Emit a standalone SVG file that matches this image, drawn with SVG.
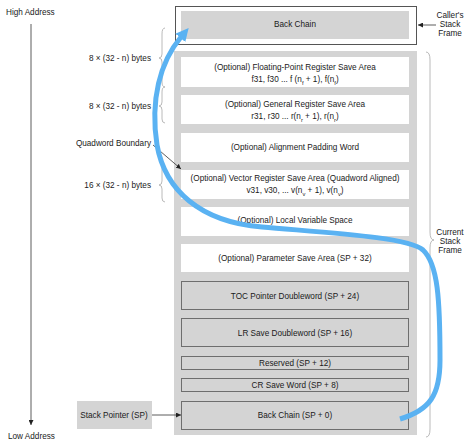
<svg xmlns="http://www.w3.org/2000/svg" width="474" height="444" viewBox="0 0 474 444">
<defs>
<style>
text{font-family:"Liberation Sans",Arial,sans-serif;font-size:8.2px;fill:#1a1a1a}
.c{text-anchor:middle}
.r{text-anchor:end}
.w{fill:#ffffff}
.g{fill:#d4d4d4}
.gb{fill:#d4d4d4;stroke:#6e6e6e;stroke-width:1}
.brace{fill:none;stroke:#a8a8a8;stroke-width:0.8}
.ln{fill:none;stroke:#333;stroke-width:0.8}
.sub{font-size:5.8px}
</style>
<marker id="ah" viewBox="0 0 10 10" refX="10" refY="5" markerWidth="5" markerHeight="5" orient="auto" markerUnits="userSpaceOnUse">
<path d="M0,0 L10,5 L0,10 z" fill="#222"/>
</marker>
<marker id="bh" viewBox="0 0 12 12" refX="1" refY="6" markerWidth="13" markerHeight="13" orient="auto" markerUnits="userSpaceOnUse">
<path d="M0,0 L12,6 L0,12 z" fill="#5AB2F2"/>
</marker>
</defs>
<rect width="474" height="444" fill="#ffffff"/>

<g id="axis">
<text x="6" y="15">High Address</text>
<line class="ln" x1="31" y1="24" x2="31" y2="425" marker-end="url(#ah)"/>
<text x="8" y="439">Low Address</text>
</g>

<g id="left-labels">
<text class="r" x="151" y="61">8 × (32 - n) bytes</text>
<text class="r" x="151" y="109">8 × (32 - n) bytes</text>
<text id="quadword" class="r" x="151" y="146">Quadword Boundary</text>
<text class="r" x="151" y="188">16 × (32 - n) bytes</text>
<path class="brace" d="M165,28 Q162,28 162,34 L162,54 Q162,58 159,58 Q162,58 162,62 L162,82 Q162,87 165,87"/>
<path class="brace" d="M165,87 Q162,87 162,92 L162,102 Q162,106 159,106 Q162,106 162,110 L162,119 Q162,123 165,123"/>
<path class="brace" d="M165,165 Q162,165 162,170 L162,181 Q162,185 159,185 Q162,185 162,189 L162,198 Q162,202 165,202"/>
</g>

<g id="caller-frame">
<rect x="175.5" y="6.5" width="241" height="38" fill="#fff" stroke="#555" stroke-width="1"/>
<rect class="g" x="181" y="11" width="228" height="28"/>
<text class="c" x="295" y="27">Back Chain</text>
</g>
<g id="caller-label">
<text class="c" x="450" y="18">Caller's</text>
<text class="c" x="450" y="27">Stack</text>
<text class="c" x="450" y="36">Frame</text>
</g>

<g id="current-frame">
<rect class="g" x="174" y="51" width="243" height="384"/>
</g>

<g id="fpr">
<rect class="w" x="181" y="57" width="228" height="30"/>
<text class="c" x="295" y="70">(Optional) Floating-Point Register Save Area</text>
<text class="c" x="295" y="82">f31, f30 ... f (n<tspan class="sub" baseline-shift="sub">f</tspan> + 1), f(n<tspan class="sub" baseline-shift="sub">f</tspan>)</text>
</g>
<g id="gpr">
<rect class="w" x="181" y="95" width="228" height="29"/>
<text class="c" x="295" y="107">(Optional) General Register Save Area</text>
<text class="c" x="295" y="119">r31, r30 ... r(n<tspan class="sub" baseline-shift="sub">r</tspan> + 1), r(n<tspan class="sub" baseline-shift="sub">r</tspan>)</text>
</g>
<g id="padding">
<rect class="w" x="181" y="133" width="228" height="29"/>
<text class="c" x="295" y="150">(Optional) Alignment Padding Word</text>
</g>
<g id="vr">
<rect class="w" x="181" y="170" width="228" height="29"/>
<text class="c" x="295" y="181">(Optional) Vector Register Save Area (Quadword Aligned)</text>
<text class="c" x="295" y="193">v31, v30, ... v(n<tspan class="sub" baseline-shift="sub">v</tspan> + 1), v(n<tspan class="sub" baseline-shift="sub">v</tspan>)</text>
</g>
<g id="local">
<rect class="w" x="181" y="207" width="228" height="29"/>
<text class="c" x="295" y="223">(Optional) Local Variable Space</text>
</g>
<g id="param">
<rect class="w" x="181" y="244" width="228" height="28"/>
<text class="c" x="295" y="261">(Optional) Parameter Save Area (SP + 32)</text>
</g>
<g id="toc">
<rect class="gb" x="181.5" y="281.5" width="227" height="28"/>
<text class="c" x="295" y="299">TOC Pointer Doubleword (SP + 24)</text>
</g>
<g id="lr">
<rect class="gb" x="181.5" y="318.5" width="227" height="28"/>
<text class="c" x="295" y="336">LR Save Doubleword (SP + 16)</text>
</g>
<g id="reserved">
<rect class="gb" x="181.5" y="356.5" width="227" height="13"/>
<text class="c" x="295" y="366">Reserved (SP + 12)</text>
</g>
<g id="cr">
<rect class="gb" x="181.5" y="378.5" width="227" height="13"/>
<text class="c" x="295" y="388">CR Save Word (SP + 8)</text>
</g>
<g id="backchain">
<rect class="gb" x="181.5" y="401.5" width="227" height="28"/>
<text class="c" x="295" y="418">Back Chain (SP + 0)</text>
</g>

<g id="sp">
<rect class="g" x="77" y="401" width="75" height="28"/>
<text class="c" x="114" y="418">Stack Pointer (SP)</text>
</g>

<g id="current-label">
<path class="brace" d="M426,52 Q430,52 430,60 L430,232 Q430,240 434,240 Q430,240 430,248 L430,429 Q430,437 426,437"/>
<text class="c" x="450" y="235">Current</text>
<text class="c" x="450" y="244">Stack</text>
<text class="c" x="450" y="253">Frame</text>
</g>

<g id="connectors">
<line class="ln" x1="436" y1="25" x2="418" y2="25" marker-end="url(#ah)"/>
<line class="ln" x1="152" y1="415" x2="181" y2="415" marker-end="url(#ah)"/>
<line class="ln" x1="153" y1="145" x2="181" y2="169" marker-end="url(#ah)"/>
<path d="M400,419 C430,410 440,395 440,360 C440,300 438,264 423,250 C408,237 330,233 262,227 C200,222 165,190 157,145 C150,100 160,62 181,37" fill="none" stroke="#5AB2F2" stroke-width="5" stroke-linecap="butt" marker-end="url(#bh)"/>
</g>
</svg>
